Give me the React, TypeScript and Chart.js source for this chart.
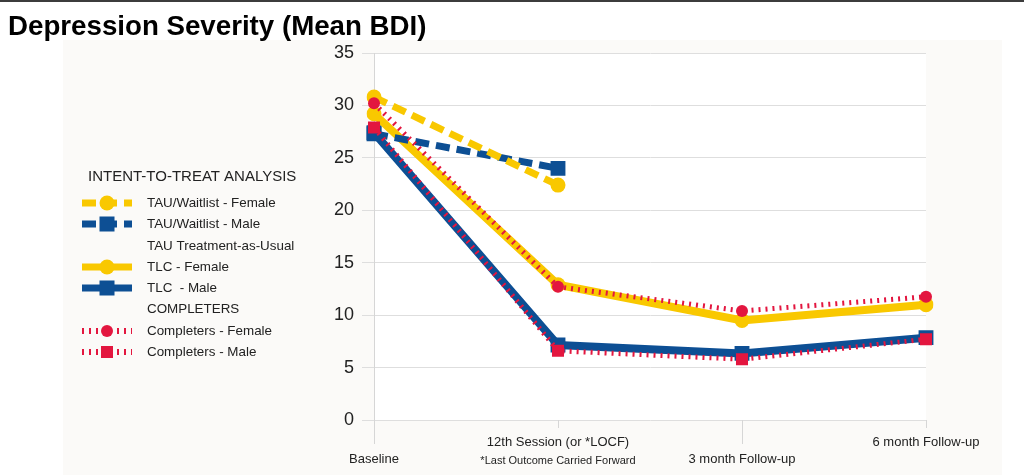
import React, { useEffect, useRef } from 'react';
import { Chart, registerables } from 'chart.js';

Chart.register(...registerables);

const W = 1024;
const H = 475;
const FONT = "'Liberation Sans', Arial, Helvetica, sans-serif";

const titleText = 'Depression Severity (Mean BDI)';
const categories = ['Baseline', '12th Session (or *LOCF)', '3 month Follow-up', '6 month Follow-up'];
const categoryNotes = ['', '*Last Outcome Carried Forward', '', ''];
const yMin = 0;
const yMax = 35;
const yStep = 5;

const seriesNames = [
  'TAU/Waitlist - Female',
  'TAU/Waitlist - Male',
  'TLC - Female',
  'TLC  - Male',
  'Completers - Female',
  'Completers - Male',
];
const tauFemale = [30.8, 22.4, null, null];
const tauMale = [27.3, 24.0, null, null];
const tlcFemale = [29.2, 12.9, 9.5, 11.0];
const tlcMale = [27.4, 7.15, 6.35, 7.85];
const compFemale = [30.2, 12.7, 10.4, 11.75];
const compMale = [27.9, 6.6, 5.8, 7.7];

const legendHeaders = ['INTENT-TO-TREAT ANALYSIS', 'TAU Treatment-as-Usual', 'COMPLETERS'];

const YELLOW = '#f9c800';
const BLUE = '#0d4f94';
const RED = '#e3163f';

const layoutPlugin = {
  id: 'layoutDecor',
  beforeDraw(chart: any) {
    const { ctx, chartArea } = chart;
    ctx.save();
    ctx.fillStyle = '#ffffff';
    ctx.fillRect(0, 0, W, H);
    ctx.fillStyle = '#3c3c3c';
    ctx.fillRect(0, 0, W, 2);
    ctx.fillStyle = '#fbfaf8';
    ctx.fillRect(63, 40, 939, H - 40);
    ctx.fillStyle = '#ffffff';
    ctx.fillRect(chartArea.left, chartArea.top, chartArea.right - chartArea.left, chartArea.bottom - chartArea.top);
    // title
    ctx.fillStyle = '#000000';
    ctx.font = `bold 27.7px ${FONT}`;
    ctx.textAlign = 'left';
    ctx.textBaseline = 'alphabetic';
    ctx.fillText(titleText, 8, 35);
    ctx.restore();
  },
  afterDraw(chart: any) {
    const { ctx, chartArea } = chart;
    const xs = chart.scales.x;
    ctx.save();
    // x ticks and staggered labels
    categories.forEach((label, i) => {
      const x = xs.getPixelForTick(i);
      const low = i % 2 === 0;
      ctx.strokeStyle = '#d6d6d6';
      ctx.lineWidth = 1;
      ctx.beginPath();
      ctx.moveTo(Math.round(x) + 0.5, chartArea.bottom);
      ctx.lineTo(Math.round(x) + 0.5, chartArea.bottom + (low ? 24 : 8));
      ctx.stroke();
      ctx.fillStyle = '#222222';
      ctx.textAlign = 'center';
      ctx.textBaseline = 'middle';
      ctx.font = `13px ${FONT}`;
      ctx.fillText(label, x, low ? 459 : 442);
      if (categoryNotes[i]) {
        ctx.font = `11px ${FONT}`;
        ctx.fillText(categoryNotes[i], x, 461);
      }
    });

    // legend
    const datasets = chart.data.datasets;
    const rows: any[] = [
      { header: legendHeaders[0] },
      { ds: 0 },
      { ds: 1 },
      { header: legendHeaders[1] },
      { ds: 2 },
      { ds: 3 },
      { header: legendHeaders[2] },
      { ds: 4 },
      { ds: 5 },
    ];
    const rowY = [177, 203, 224, 246, 267, 288, 309, 331, 352];
    rows.forEach((r, k) => {
      const y = rowY[k];
      ctx.fillStyle = '#222222';
      ctx.textBaseline = 'middle';
      ctx.textAlign = 'left';
      ctx.font = `13.4px ${FONT}`;
      if (r.header !== undefined) {
        if (k === 0) ctx.font = `15px ${FONT}`;
        ctx.fillText(r.header, k === 0 ? 88 : 147, y);
        return;
      }
      const d = datasets[r.ds];
      ctx.save();
      ctx.strokeStyle = d.borderColor;
      ctx.lineWidth = d.legendLineWidth;
      ctx.setLineDash(d.borderDash || []);
      ctx.lineCap = 'butt';
      ctx.beginPath();
      ctx.moveTo(82, y);
      ctx.lineTo(132, y);
      ctx.stroke();
      ctx.restore();
      ctx.fillStyle = d.pointBackgroundColor;
      const cx = 107;
      if (d.pointStyle === 'rect') {
        const s = d.legendPointSize;
        ctx.fillRect(cx - s / 2, y - s / 2, s, s);
      } else {
        ctx.beginPath();
        ctx.arc(cx, y, d.legendPointSize / 2, 0, Math.PI * 2);
        ctx.fill();
      }
      ctx.fillStyle = '#222222';
      ctx.fillText(seriesNames[r.ds], 147, y);
    });
    ctx.restore();
  },
};

export default function App() {
  const ref = useRef<HTMLCanvasElement | null>(null);

  useEffect(() => {
    if (!ref.current) return;
    const mk = (
      i: number,
      data: (number | null)[],
      color: string,
      width: number,
      dash: number[],
      style: string,
      radius: number,
      order: number,
      legendLineWidth: number,
      legendPointSize: number
    ) => ({
      label: seriesNames[i],
      data,
      borderColor: color,
      backgroundColor: color,
      pointBackgroundColor: color,
      pointBorderColor: color,
      pointBorderWidth: 0,
      borderWidth: width,
      borderDash: dash,
      pointStyle: style,
      pointRadius: radius,
      pointHoverRadius: radius,
      order,
      spanGaps: false,
      tension: 0,
      fill: false,
      legendLineWidth,
      legendPointSize,
    });

    const chart = new Chart(ref.current, {
      type: 'line',
      data: {
        labels: categories,
        datasets: [
          mk(0, tauFemale, YELLOW, 7, [14, 7], 'circle', 7.5, 3, 7, 15),
          mk(1, tauMale, BLUE, 7, [14, 7], 'rect', 10.5, 4, 7, 15),
          mk(2, tlcFemale, YELLOW, 8, [], 'circle', 7.5, 5, 7, 15),
          mk(3, tlcMale, BLUE, 8, [], 'rect', 10.5, 6, 7, 15),
          mk(4, compFemale, RED, 5, [2, 5], 'circle', 6, 1, 6, 12),
          mk(5, compMale, RED, 5, [2, 5], 'rect', 8.5, 2, 6, 12),
        ] as any,
      },
      options: {
        responsive: false,
        animation: false,
        devicePixelRatio: window.devicePixelRatio || 1,
        layout: { padding: { left: 314, right: 98, top: 53, bottom: 55 } },
        plugins: {
          legend: { display: false },
          title: { display: false },
          tooltip: { enabled: false },
        },
        scales: {
          x: {
            type: 'category',
            offset: false,
            grid: { display: false },
            border: { display: false },
            ticks: { display: false },
            afterFit: (s: any) => {
              s.height = 0;
            },
          },
          y: {
            min: yMin,
            max: yMax,
            ticks: {
              stepSize: yStep,
              color: '#222222',
              font: { family: FONT, size: 18 },
              padding: 8,
            },
            grid: {
              color: '#dedede',
              lineWidth: 1,
              tickLength: 12,
            },
            border: { display: true, color: '#d6d6d6', width: 1 },
            afterFit: (s: any) => {
              s.width = 60;
            },
          },
        },
      } as any,
      plugins: [layoutPlugin],
    });
    return () => chart.destroy();
  }, []);

  return (
    <div style={{ position: 'absolute', left: 0, top: 0, width: W, height: H }}>
      <canvas ref={ref} width={W} height={H} style={{ display: 'block', width: W, height: H }} />
    </div>
  );
}
